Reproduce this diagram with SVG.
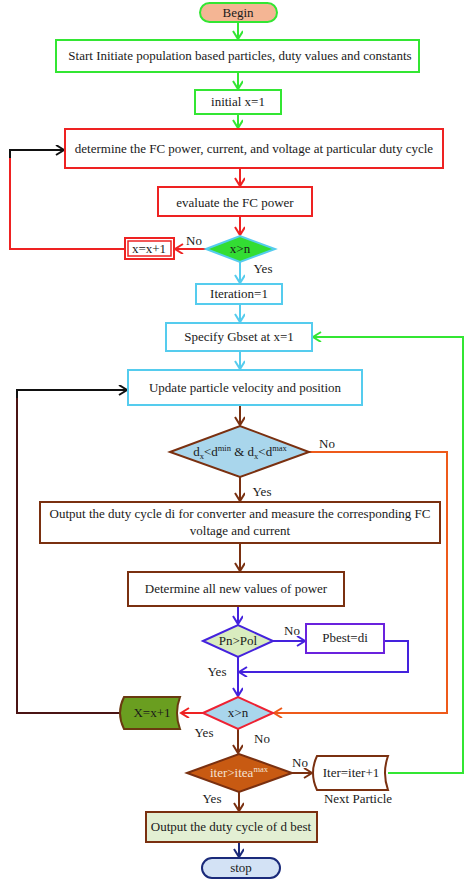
<svg xmlns="http://www.w3.org/2000/svg" width="474" height="890" viewBox="0 0 474 890">
<defs>
<style>
text{font-family:"Liberation Serif","Times New Roman",serif;font-size:13px;fill:#1a1a1a;text-anchor:middle}
.ln{fill:none;stroke-width:2}
.box{stroke-width:2}
.sup{font-size:8.5px}
</style>
<marker id="aG" markerWidth="12" markerHeight="12" refX="9" refY="5" orient="auto" markerUnits="userSpaceOnUse"><path d="M1,0 L9,5 L1,10" fill="none" stroke="#33e633" stroke-width="2"/></marker>
<marker id="aR" markerWidth="12" markerHeight="12" refX="9" refY="5" orient="auto" markerUnits="userSpaceOnUse"><path d="M1,0 L9,5 L1,10" fill="none" stroke="#ee2222" stroke-width="2"/></marker>
<marker id="aK" markerWidth="12" markerHeight="12" refX="9" refY="5" orient="auto" markerUnits="userSpaceOnUse"><path d="M1,0 L9,5 L1,10" fill="none" stroke="#111111" stroke-width="2"/></marker>
<marker id="aC" markerWidth="12" markerHeight="12" refX="9" refY="5" orient="auto" markerUnits="userSpaceOnUse"><path d="M1,0 L9,5 L1,10" fill="none" stroke="#55ccee" stroke-width="2"/></marker>
<marker id="aB" markerWidth="12" markerHeight="12" refX="9" refY="5" orient="auto" markerUnits="userSpaceOnUse"><path d="M1,0 L9,5 L1,10" fill="none" stroke="#7a3010" stroke-width="2"/></marker>
<marker id="aO" markerWidth="12" markerHeight="12" refX="9" refY="5" orient="auto" markerUnits="userSpaceOnUse"><path d="M1,0 L9,5 L1,10" fill="none" stroke="#ee5a1a" stroke-width="2"/></marker>
<marker id="aU" markerWidth="12" markerHeight="12" refX="9" refY="5" orient="auto" markerUnits="userSpaceOnUse"><path d="M1,0 L9,5 L1,10" fill="none" stroke="#4422dd" stroke-width="2"/></marker>
<marker id="aN" markerWidth="12" markerHeight="12" refX="9" refY="5" orient="auto" markerUnits="userSpaceOnUse"><path d="M1,0 L9,5 L1,10" fill="none" stroke="#1a2a7a" stroke-width="2"/></marker>
</defs>
<rect width="474" height="890" fill="#ffffff"/>

<g id="connectors">
<line class="ln" x1="238" y1="22" x2="238" y2="39" stroke="#33e633" marker-end="url(#aG)"/>
<line class="ln" x1="238" y1="72" x2="238" y2="89" stroke="#33e633" marker-end="url(#aG)"/>
<line class="ln" x1="238" y1="114" x2="238" y2="128" stroke="#33e633" marker-end="url(#aG)"/>
<line class="ln" x1="240" y1="168" x2="240" y2="186" stroke="#ee2222" marker-end="url(#aR)"/>
<line class="ln" x1="240" y1="216" x2="240" y2="235" stroke="#ee2222" marker-end="url(#aR)"/>
<line class="ln" x1="206" y1="249" x2="175" y2="249" stroke="#ee2222" marker-end="url(#aR)"/>
<polyline class="ln" points="125,249 10,249 10,151" stroke="#ee2222"/>
<polyline class="ln" points="10,158 10,150 64,150" stroke="#111111" marker-end="url(#aK)"/>
<line class="ln" x1="240" y1="262" x2="240" y2="283" stroke="#55ccee" marker-end="url(#aC)"/>
<line class="ln" x1="240" y1="304" x2="240" y2="322" stroke="#55ccee" marker-end="url(#aC)"/>
<line class="ln" x1="240" y1="351" x2="240" y2="369" stroke="#55ccee" marker-end="url(#aC)"/>
<line class="ln" x1="240" y1="405" x2="240" y2="425" stroke="#7a3010" marker-end="url(#aB)"/>
<polyline class="ln" points="309,452 447,452 447,713 274,713" stroke="#ee5a1a" marker-end="url(#aO)"/>
<line class="ln" x1="240" y1="477" x2="240" y2="501" stroke="#7a3010" marker-end="url(#aB)"/>
<line class="ln" x1="240" y1="543" x2="240" y2="571" stroke="#7a3010" marker-end="url(#aB)"/>
<line class="ln" x1="238" y1="606" x2="238" y2="624" stroke="#4422dd" marker-end="url(#aU)"/>
<line class="ln" x1="273" y1="641" x2="305" y2="641" stroke="#4422dd" marker-end="url(#aU)"/>
<polyline class="ln" points="384,641 408,641 408,672 239,672" stroke="#4422dd" marker-end="url(#aU)"/>
<line class="ln" x1="238" y1="657" x2="238" y2="696" stroke="#4422dd" marker-end="url(#aU)"/>
<line class="ln" x1="203" y1="713" x2="181" y2="713" stroke="#ee2222" marker-end="url(#aR)"/>
<polyline class="ln" points="120,713 17,713 17,392" stroke="#4a1414"/>
<polyline class="ln" points="17,398 17,390 127,390" stroke="#111111" marker-end="url(#aK)"/>
<line class="ln" x1="238" y1="729" x2="238" y2="753" stroke="#7a3010" marker-end="url(#aB)"/>
<line class="ln" x1="292" y1="773" x2="312" y2="773" stroke="#7a3010" marker-end="url(#aB)"/>
<polyline class="ln" points="388,773 463,773 463,337 313,337" stroke="#33e633" marker-end="url(#aG)"/>
<line class="ln" x1="239" y1="792" x2="239" y2="811" stroke="#7a3010" marker-end="url(#aB)"/>
<line class="ln" x1="239" y1="842" x2="239" y2="857" stroke="#1a2a7a" marker-end="url(#aN)"/>
</g>

<g id="begin">
<rect class="box" x="200" y="3" width="77" height="19" rx="9.5" fill="#f4b594" stroke="#33e633"/>
<text x="238" y="17">Begin</text>
</g>
<g id="start">
<rect class="box" x="56" y="40" width="363" height="32" fill="#ffffff" stroke="#33e633"/>
<text x="240" y="60">Start Initiate population based particles, duty values and constants</text>
</g>
<g id="initial">
<rect class="box" x="195" y="90" width="86" height="24" fill="#ffffff" stroke="#33e633"/>
<text x="238" y="106">initial x=1</text>
</g>
<g id="determine-fc">
<rect class="box" x="65" y="129" width="378" height="39" fill="#ffffff" stroke="#ee2222"/>
<text x="254" y="153">determine the FC power, current, and voltage at particular duty cycle</text>
</g>
<g id="evaluate">
<rect class="box" x="158" y="187" width="154" height="29" fill="#ffffff" stroke="#ee2222"/>
<text x="235" y="207">evaluate the FC power</text>
</g>
<g id="dec-x-n-1">
<polygon class="box" points="206,249 240,236 275,249 240,262" fill="#33dd33" stroke="#55ccee"/>
<text x="240" y="253">x&gt;n</text>
</g>
<g id="inc-x-1">
<rect class="box" x="125" y="238" width="49" height="21" fill="#ffffff" stroke="#ee2222"/>
<rect x="128" y="241" width="43" height="15" fill="none" stroke="#ee2222" stroke-width="1.5"/>
<text x="149" y="253">x=x+1</text>
</g>
<g id="iteration">
<rect class="box" x="196" y="284" width="86" height="20" fill="#ffffff" stroke="#55ccee"/>
<text x="239" y="298">Iteration=1</text>
</g>
<g id="specify">
<rect class="box" x="166" y="323" width="146" height="28" fill="#ffffff" stroke="#55ccee"/>
<text x="239" y="341">Specify Gbset at x=1</text>
</g>
<g id="update">
<rect class="box" x="128" y="370" width="234" height="35" fill="#ffffff" stroke="#55ccee"/>
<text x="245" y="392">Update particle velocity and position</text>
</g>
<g id="dec-d">
<polygon class="box" points="170,452 240,426 309,452 240,477" fill="#a9d6ec" stroke="#7a3010"/>
<text x="240" y="456">d<tspan class="sup" dy="3">x</tspan><tspan dy="-3">&lt;d</tspan><tspan class="sup" dy="-5">min</tspan><tspan dy="5"> &amp; d</tspan><tspan class="sup" dy="3">x</tspan><tspan dy="-3">&lt;d</tspan><tspan class="sup" dy="-5">max</tspan></text>
</g>
<g id="output-duty">
<rect class="box" x="40" y="502" width="400" height="41" fill="#ffffff" stroke="#7a3010"/>
<text x="240" y="518">Output the duty cycle di for converter and measure the corresponding FC</text>
<text x="240" y="535">voltage and current</text>
</g>
<g id="determine-power">
<rect class="box" x="128" y="572" width="216" height="34" fill="#ffffff" stroke="#7a3010"/>
<text x="236" y="593">Determine all new values of power</text>
</g>
<g id="dec-pn">
<polygon class="box" points="203,641 238,625 273,641 238,657" fill="#d9ecbf" stroke="#4422dd"/>
<text x="238" y="645">Pn&gt;Pol</text>
</g>
<g id="pbest">
<rect class="box" x="306" y="624" width="78" height="29" fill="#ffffff" stroke="#6a22dd"/>
<text x="345" y="642">Pbest=di</text>
</g>
<g id="dec-x-n-2">
<polygon class="box" points="203,713 238,697 273,713 238,729" fill="#a9d6ec" stroke="#ee2233"/>
<text x="238" y="717">x&gt;n</text>
</g>
<g id="inc-x-2">
<path class="box" d="M124,697 L180,697 Q174,713 180,729 L124,729 Q116,713 124,697 Z" fill="#6a9e20" stroke="#6a3a10"/>
<text x="152" y="717">X=x+1</text>
</g>
<g id="dec-iter">
<polygon class="box" points="187,773 239,754 292,773 239,792" fill="#c85a12" stroke="#7a3010"/>
<text x="239" y="777" style="fill:#f5e2d2">iter&gt;itea<tspan class="sup" dy="-5" style="fill:#f5e2d2">max</tspan></text>
</g>
<g id="iter-inc">
<path class="box" d="M317,756 L388,756 Q382,773 388,790 L317,790 Q309,773 317,756 Z" fill="#ffffff" stroke="#7a3010"/>
<text x="351" y="777">Iter=iter+1</text>
</g>
<g id="output-best">
<rect class="box" x="146" y="812" width="171" height="30" fill="#e3efd3" stroke="#7a3010"/>
<text x="231" y="831">Output the duty cycle of d best</text>
</g>
<g id="stop">
<rect class="box" x="202" y="858" width="78" height="20" rx="10" fill="#d3e2f5" stroke="#1a2a7a"/>
<text x="241" y="872">stop</text>
</g>

<g id="labels">
<text x="194" y="245">No</text>
<text x="263" y="273">Yes</text>
<text x="327" y="448">No</text>
<text x="262" y="496">Yes</text>
<text x="292" y="635">No</text>
<text x="217" y="676">Yes</text>
<text x="204" y="737">Yes</text>
<text x="262" y="743">No</text>
<text x="300" y="767">No</text>
<text x="358" y="803">Next Particle</text>
<text x="212" y="803">Yes</text>
</g>
</svg>
